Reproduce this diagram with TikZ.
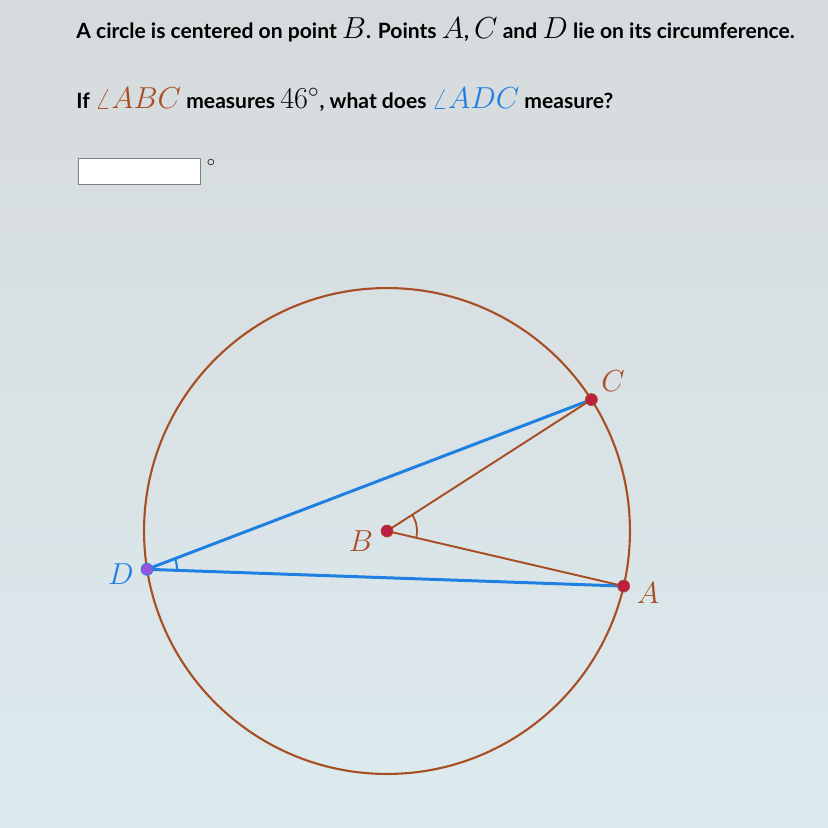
\documentclass[tikz,border=0pt]{standalone}
\usepackage{fontspec}
\setmainfont{Lato}
\usetikzlibrary{angles}
\definecolor{rimbrown}{RGB}{168,78,36}
\definecolor{chordblue}{RGB}{32,128,226}
\definecolor{dotred}{RGB}{188,30,68}
\definecolor{dotpurple}{RGB}{150,84,222}
\definecolor{screentop}{RGB}{214,218,220}
\definecolor{screenmid}{RGB}{236,246,250}
\definecolor{screenlow}{RGB}{220,234,238}
\newcommand{\qmath}[1]{{\fontsize{17}{19}\selectfont$#1$}}
\tikzset{
  radius line/.style={rimbrown, line width=1.1pt},
  chord line/.style={chordblue, line width=1.7pt},
  pt label/.style={font=\fontsize{18}{20}\selectfont, inner sep=0pt},
  question/.style={anchor=base west, inner sep=0pt, font=\fontsize{12}{13}\selectfont\bfseries}
}

\begin{document}
\begin{tikzpicture}[x=0.02cm, y=-0.02cm]
        \shade[top color=screentop, middle color=screenmid, bottom color=screenlow] (0,0) rectangle (828,828);
        \useasboundingbox (0,0) rectangle (828,828);

        \node[question] (line1) at (76,39)
            {A circle is centered on point \qmath{B}. Points \qmath{A}, \qmath{C} and \qmath{D} lie on its circumference.};
        \node[question] (line2) at (76,109)
            {If {\color{rimbrown}\qmath{\angle ABC}} measures \qmath{46^\circ}, what does {\color{chordblue}\qmath{\angle ADC}} measure?};
        \node[draw=gray, fill=white, minimum width=2.44cm, minimum height=0.52cm, inner sep=0pt] (answer) at (139,171) {};
        \node[inner sep=0pt, font=\small] (deg) at (211,163) {$\circ$};

        \coordinate (B) at (387,531);
        \coordinate (C) at (591.4,399.6);
        \coordinate (A) at (623.7,586.1);
        \coordinate (D) at (147,569.3);

        \draw[rimbrown, line width=1.2pt] (B) circle[radius=4.86cm];
        \draw[chord line] (D) -- (C);
        \draw[chord line] (D) -- (A);
        \draw[radius line] (B) -- (C);
        \draw[radius line] (B) -- (A);
        \pic[draw=rimbrown, line width=1pt, angle radius=0.6cm] {angle = A--B--C};
        \pic[draw=chordblue, line width=1.2pt, angle radius=0.6cm] {angle = A--D--C};

        \fill[dotred, draw=rimbrown] (B) circle (0.12cm);
        \fill[dotred, draw=rimbrown] (C) circle (0.12cm);
        \fill[dotred, draw=rimbrown] (A) circle (0.12cm);
        \fill[dotpurple, draw=chordblue] (D) circle (0.12cm);

        \node[pt label, text=rimbrown] (labC) at (613,381) {$C$};
        \node[pt label, text=rimbrown] (labB) at (361,541) {$B$};
        \node[pt label, text=rimbrown] (labA) at (648,593) {$A$};
        \node[pt label, text=chordblue] (labD) at (121,574) {$D$};
    \end{tikzpicture}
\end{document}
